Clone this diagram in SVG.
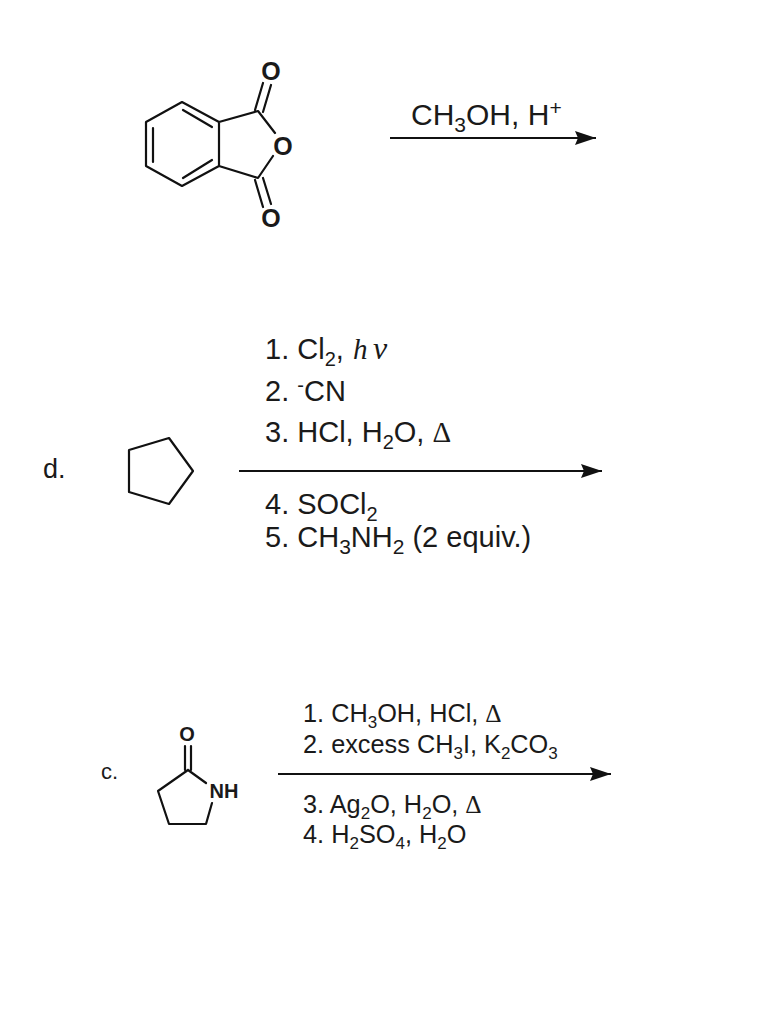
<svg xmlns="http://www.w3.org/2000/svg" width="779" height="1024" viewBox="0 0 779 1024">
<style>
.b{fill:none;stroke:#111;stroke-width:2.2;stroke-linecap:round;stroke-linejoin:round}
.t{font-family:"Liberation Sans",Arial,sans-serif;fill:#1a1a1a}
.a{font-size:29px}.r{font-size:25.3px}
.atom{font-weight:bold;font-size:25px;text-anchor:middle}
.s{stroke:#111;stroke-width:2.2;fill:none}
.d{font-family:"Liberation Serif",serif}
</style>
<defs><marker id="h" markerUnits="userSpaceOnUse" markerWidth="22" markerHeight="14" refX="21" refY="7" orient="auto"><path d="M0 0L21 7L0 14L3 7Z" fill="#111"/></marker></defs>
<rect width="779" height="1024" fill="#fff"/>
<g id="connectors">
<path class="s" d="M390 138H596" marker-end="url(#h)"/>
<path class="s" d="M239 471H602" marker-end="url(#h)"/>
<path class="s" d="M278 774H611" marker-end="url(#h)"/>
</g>
<g id="anhydride">
<path class="b" d="M219 122L182 102L146 122V166L182 186L219 166ZM153 128V162M183 110L212 127M183 178L212 160M219 122L258 111L275 133M219 166L258 178L273 156M255 110L263 83M263 112L271 85M255 180L263 207M263 178L271 204"/>
<text class="t atom" x="271" y="80">O</text><text class="t atom" x="283" y="155">O</text><text class="t atom" x="271" y="227">O</text>
</g>
<g id="label1"><text class="t" font-size="30" x="411" y="125">CH<tspan dy="7" font-size="21">3</tspan><tspan dy="-7">OH, H</tspan><tspan dy="-10" font-size="21">+</tspan></text></g>
<g id="cyclopentane"><path class="b" d="M129 450L169 438L193 471L169 504L129 492Z"/></g>
<text class="t" font-size="27" x="43" y="478">d.</text>
<g id="label2">
<text class="t a" x="265" y="359">1. Cl<tspan dy="7" font-size="20">2</tspan><tspan dy="-7">, </tspan><tspan class="d" font-style="italic" x="353">h</tspan><tspan class="d" font-style="italic" font-size="32" x="373">ν</tspan></text>
<text class="t a" x="265" y="401">2. <tspan dy="-9" font-size="20">-</tspan><tspan dy="9" x="304">CN</tspan></text>
<text class="t a" x="265" y="442">3. HCl, H<tspan dy="7" font-size="20">2</tspan><tspan dy="-7">O, </tspan><tspan class="d">Δ</tspan></text>
<text class="t a" x="265" y="514">4. SOCl<tspan dy="7" font-size="20">2</tspan></text>
<text class="t a" x="265" y="547">5. CH<tspan dy="7" font-size="21">3</tspan><tspan dy="-7">NH</tspan><tspan dy="7" font-size="21">2</tspan><tspan dy="-7"> (2 equiv.)</tspan></text>
</g>
<g id="lactam">
<path class="b" d="M188 770L158 791L169 824H206L212 803M188 770L206 783M185 770V746M191 770V746"/>
<text class="t atom" style="font-size:20px" x="187" y="741">O</text><text class="t atom" style="font-size:20px" x="224" y="798">NH</text>
</g>
<text class="t" font-size="22" x="101" y="779">c.</text>
<g id="label3">
<text class="t r" x="303" y="722">1. CH<tspan dy="6" font-size="17">3</tspan><tspan dy="-6">OH, HCl, </tspan><tspan class="d">Δ</tspan></text>
<text class="t r" x="303" y="753">2. excess CH<tspan dy="6" font-size="17">3</tspan><tspan dy="-6">I, K</tspan><tspan dy="6" font-size="17">2</tspan><tspan dy="-6">CO</tspan><tspan dy="6" font-size="17">3</tspan></text>
<text class="t r" x="303" y="813">3. Ag<tspan dy="6" font-size="17">2</tspan><tspan dy="-6">O, H</tspan><tspan dy="6" font-size="17">2</tspan><tspan dy="-6">O, </tspan><tspan class="d">Δ</tspan></text>
<text class="t r" x="303" y="843">4. H<tspan dy="6" font-size="17">2</tspan><tspan dy="-6">SO</tspan><tspan dy="6" font-size="17">4</tspan><tspan dy="-6">, H</tspan><tspan dy="6" font-size="17">2</tspan><tspan dy="-6">O</tspan></text>
</g>
</svg>
